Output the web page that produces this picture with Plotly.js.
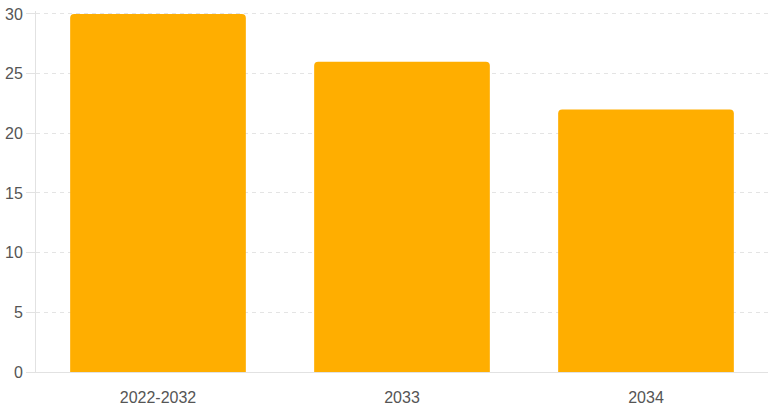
<!DOCTYPE html>
<html>
<head>
<meta charset="utf-8">
<script src="https://cdn.plot.ly/plotly-3.0.1.min.js"></script>
<style>html,body{margin:0;padding:0;background:#fff;}#chart{width:768px;height:410px;}</style>
</head>
<body>
<div id="chart"></div>
<script>
const categories = ["2022-2032", "2033", "2034"];
const values = [30, 26, 22];
const yTicks = [0, 5, 10, 15, 20, 25, 30];

const trace = {
  type: "bar",
  x: categories,
  y: values,
  marker: { color: "#FFAE00", cornerradius: 4 },
  width: 0.72,
  hoverinfo: "x+y"
};

const layout = {
  width: 768,
  height: 410,
  margin: { l: 36, r: 0, t: 11, b: 38 },
  paper_bgcolor: "#fff",
  plot_bgcolor: "#fff",
  font: { family: "Liberation Sans, Arial, Helvetica, sans-serif", size: 16, color: "#555" },
  showlegend: false,
  xaxis: {
    type: "category",
    showline: true,
    linecolor: "#e2e2e2",
    linewidth: 1,
    showgrid: false,
    ticks: "outside",
    ticklen: 11,
    tickcolor: "rgba(0,0,0,0)",
    tickfont: { size: 16, color: "#555" }
  },
  yaxis: {
    range: [0, 30.25],
    tickvals: yTicks,
    ticktext: yTicks.map(String),
    showline: true,
    linecolor: "#e2e2e2",
    linewidth: 1,
    gridcolor: "#e4e4e4",
    griddash: "4px,4px",
    zeroline: false,
    ticks: "outside",
    ticklen: 9,
    tickcolor: "#e2e2e2",
    tickfont: { size: 16, color: "#555" }
  }
};

Plotly.newPlot("chart", [trace], layout, { displayModeBar: false, staticPlot: true });
</script>
</body>
</html>
